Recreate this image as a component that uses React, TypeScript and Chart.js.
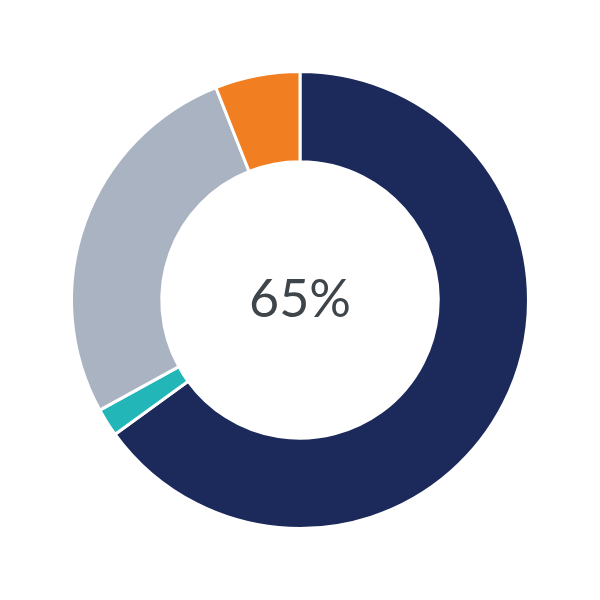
import React, { useEffect, useRef } from "react";
import { Chart, registerables } from "chart.js";

Chart.register(...registerables);

const labels = ["A", "B", "C", "D"];
const values = [65, 2, 27, 6];
const colors = ["#1c2a5b", "#22b6b9", "#a9b3c1", "#f17f21"];
const centerText = "65%";

const centerPlugin = {
  id: "centerText",
  afterDraw(chart: any) {
    const { ctx, chartArea } = chart;
    const x = (chartArea.left + chartArea.right) / 2;
    const y = (chartArea.top + chartArea.bottom) / 2;
    ctx.save();
    ctx.font = "400 52px Lato";
    ctx.fillStyle = "#3e454b";
    ctx.textAlign = "center";
    ctx.textBaseline = "middle";
    ctx.fillText(centerText, x, y);
    ctx.restore();
  },
};

export default function App() {
  const ref = useRef<HTMLCanvasElement>(null);
  useEffect(() => {
    const chart = new Chart(ref.current!, {
      type: "doughnut",
      data: {
        labels,
        datasets: [
          {
            data: values,
            backgroundColor: colors,
            borderColor: "#ffffff",
            borderWidth: 3,
          },
        ],
      },
      options: {
        animation: false,
        responsive: false,
        cutout: "60.5%",
        layout: { padding: 70 },
        plugins: { legend: { display: false }, tooltip: { enabled: false } },
      },
      plugins: [centerPlugin],
    });
    return () => chart.destroy();
  }, []);
  return (
    <div style={{ position: "fixed", left: 0, top: 0, width: 600, height: 600, background: "#fff" }}>
      <canvas ref={ref} width={600} height={600} />
    </div>
  );
}
